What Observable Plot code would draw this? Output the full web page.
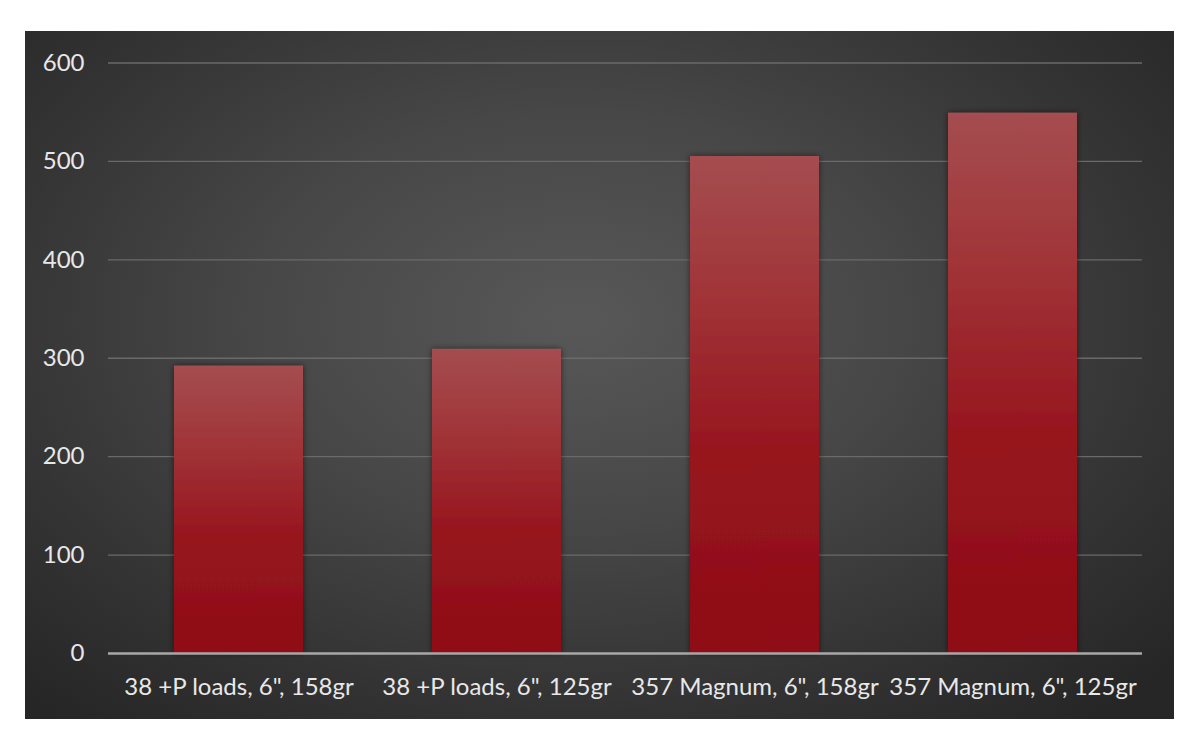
<!DOCTYPE html>
<html>
<head>
<meta charset="utf-8">
<script src="https://cdn.jsdelivr.net/npm/d3@7"></script>
<script src="https://cdn.jsdelivr.net/npm/@observablehq/plot@0.6"></script>
<style>
  html, body { margin: 0; padding: 0; background: #ffffff; }
  #panel {
    position: absolute; left: 25px; top: 31px; width: 1149px; height: 688px;
    background: radial-gradient(ellipse 70% 75% at 48% 42%, #585858 0%, #474747 40%, #333333 75%, #262626 100%);
    overflow: hidden;
  }
  #panel svg { background: transparent; }
  #panel svg text { font-family: Lato, "Noto Sans", sans-serif; font-size: 24px; fill: #e8e8e8; }
</style>
</head>
<body>
<div id="panel"></div>
<script>
const categories = ["38 +P loads, 6\", 158gr", "38 +P loads, 6\", 125gr", "357 Magnum, 6\", 158gr", "357 Magnum, 6\", 125gr"];
const values = [292, 309, 505, 549];
const yTicks = [0, 100, 200, 300, 400, 500, 600];

const data = categories.map((c, i) => ({category: c, value: values[i]}));

const defs = () => {
  const d = d3.create("svg:defs");
  const g = d.append("linearGradient").attr("id", "barGrad")
    .attr("x1", 0).attr("y1", 0).attr("x2", 0).attr("y2", 1);
  g.append("stop").attr("offset", "0%").attr("stop-color", "#a54d50");
  g.append("stop").attr("offset", "30%").attr("stop-color", "#a03236");
  g.append("stop").attr("offset", "60%").attr("stop-color", "#96151e");
  g.append("stop").attr("offset", "100%").attr("stop-color", "#8f0d16");
  const f = d.append("filter").attr("id", "shadow").attr("x", "-20%").attr("y", "-5%").attr("width", "140%").attr("height", "110%");
  f.append("feDropShadow").attr("dx", 0).attr("dy", 0).attr("stdDeviation", 3)
    .attr("flood-color", "#000").attr("flood-opacity", 0.55);
  return d.node();
};

const chart = Plot.plot({
  width: 1149,
  height: 688,
  marginLeft: 83,
  marginRight: 32,
  marginTop: 31.5,
  marginBottom: 66,
  style: {background: "transparent", fontFamily: "Lato, sans-serif", fontSize: "24px", color: "#e8e8e8"},
  x: {domain: categories, paddingInner: 0.5, paddingOuter: 0.25, label: null},
  y: {domain: [0, 600], ticks: yTicks, label: null},
  marks: [
    defs,
    Plot.gridY(yTicks.filter(t => t > 0), {stroke: "#6a6a6a", strokeOpacity: 1, strokeWidth: 1.3}),
    Plot.barY(data, {x: "category", y: "value", fill: "url(#barGrad)"}),
    Plot.ruleY([0], {stroke: "#a8a8a8", strokeWidth: 2.5}),
    Plot.axisY({ticks: yTicks, tickSize: 0, tickPadding: 24, fill: "#e8e8e8"}),
    Plot.axisX({tickSize: 0, tickPadding: 24, fill: "#e8e8e8"})
  ]
});
chart.querySelectorAll("g[fill='url(#barGrad)'] rect").forEach(r => r.setAttribute("filter", "url(#shadow)"));
document.getElementById("panel").appendChild(chart);
</script>
</body>
</html>
